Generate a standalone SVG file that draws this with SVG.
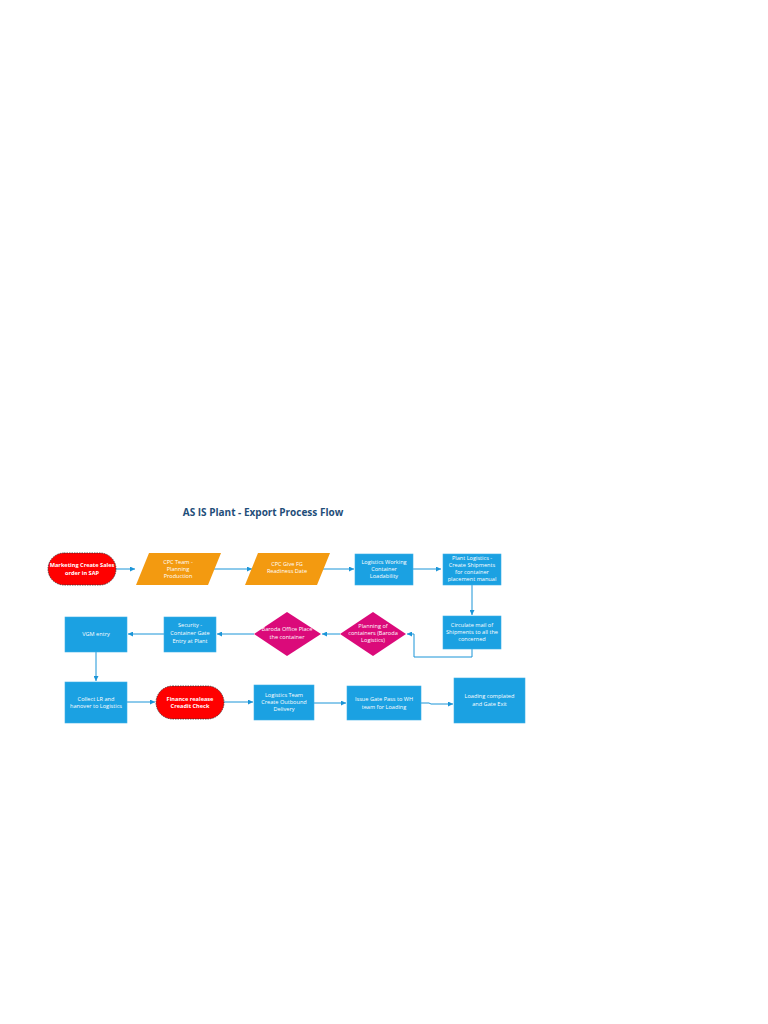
<svg xmlns="http://www.w3.org/2000/svg" width="768" height="1024" viewBox="0 0 768 1024">
<style>
.t{font-family:"Open Sans","Liberation Sans",sans-serif;font-size:5.6px;fill:#fff;text-anchor:middle}
.b{font-weight:bold}
.box{fill:#1ba1e2;stroke:#3fb0e8;stroke-width:0.6}
.par{fill:#f39a10}
.dia{fill:#db0a7a}
.term{fill:#ff0000;stroke:#333;stroke-width:0.8;stroke-dasharray:1.5,1}
.c{fill:none;stroke:#1b95d8;stroke-width:1;marker-end:url(#a)}
</style>
<defs><marker id="a" viewBox="0 0 6 6" refX="6" refY="3" markerWidth="5" markerHeight="5" orient="auto"><path d="M0,0L6,3L0,6z" fill="#1b95d8"/></marker></defs>
<rect width="768" height="1024" fill="#fff"/>
<text x="263" y="516" style="font-family:'Open Sans','Liberation Sans',sans-serif;font-size:10px;font-weight:bold;fill:#1f4e79" text-anchor="middle">AS IS Plant - Export Process Flow</text>
<g id="connectors">
<path class="c" d="M116,569H135"/>
<path class="c" d="M212,569H252"/>
<path class="c" d="M322,569H354"/>
<path class="c" d="M413,569H441"/>
<path class="c" d="M472,585V615"/>
<path class="c" d="M472,649V657H414V634H407"/>
<path class="c" d="M340,634H322"/>
<path class="c" d="M254,634H217"/>
<path class="c" d="M164,634H128"/>
<path class="c" d="M96,652V681"/>
<path class="c" d="M127,702H155"/>
<path class="c" d="M224,702H253"/>
<path class="c" d="M314,703H346"/>
<path class="c" d="M421,703H429L431,704H453"/>
</g>
<g id="n1"><rect class="term" x="48" y="553" width="68" height="32" rx="16"/><text class="t b" x="82" y="567">Marketing Create Sales</text><text class="t b" x="82" y="575">order in SAP</text></g>
<g id="n2"><polygon class="par" points="149,553 221,553 208,585 136,585"/><text class="t" x="178" y="564">CPC Team -</text><text class="t" x="178" y="571">Planning</text><text class="t" x="178" y="578">Production</text></g>
<g id="n3"><polygon class="par" points="258,553 330,553 317,585 245,585"/><text class="t" x="287" y="566">CPC Give FG</text><text class="t" x="287" y="573">Readiness Date</text></g>
<g id="n4"><rect class="box" x="355" y="554" width="58" height="31"/><text class="t" x="384" y="564">Logistics Working</text><text class="t" x="384" y="571">Container</text><text class="t" x="384" y="578">Loadability</text></g>
<g id="n5"><rect class="box" x="443" y="554" width="58" height="31"/><text class="t" x="472" y="560">Plant Logistics -</text><text class="t" x="472" y="567">Create Shipments</text><text class="t" x="472" y="574">for container</text><text class="t" x="472" y="581">placement  manual</text></g>
<g id="n6"><rect class="box" x="443" y="616" width="58" height="33"/><text class="t" x="472" y="627">Circulate mail of</text><text class="t" x="472" y="634">Shipments to all the</text><text class="t" x="472" y="641">concerned</text></g>
<g id="n7"><polygon class="dia" points="373,612 406,634 373,656 340,634"/><text class="t" x="373" y="628">Planning of</text><text class="t" x="373" y="635">containers (Baroda</text><text class="t" x="373" y="642">Logistics)</text></g>
<g id="n8"><polygon class="dia" points="287,612 321,634 287,656 254,634"/><text class="t" x="287" y="631">Baroda Office Place</text><text class="t" x="287" y="639">the container</text></g>
<g id="n9"><rect class="box" x="164" y="617" width="52" height="35"/><text class="t" x="190" y="627">Security -</text><text class="t" x="190" y="635">Container Gate</text><text class="t" x="190" y="643">Entry at Plant</text></g>
<g id="n10"><rect class="box" x="65" y="617" width="62" height="35"/><text class="t" x="96" y="636">VGM entry</text></g>
<g id="n11"><rect class="box" x="65" y="682" width="62" height="41"/><text class="t" x="96" y="701">Collect LR and</text><text class="t" x="96" y="708">hanover to Logistics</text></g>
<g id="n12"><rect class="term" x="156" y="686" width="68" height="33" rx="16.5"/><text class="t b" x="190" y="701">Finance realease</text><text class="t b" x="190" y="708">Creadit Check</text></g>
<g id="n13"><rect class="box" x="254" y="685" width="60" height="35"/><text class="t" x="284" y="697">Logistics Team</text><text class="t" x="284" y="704">Create Outbound</text><text class="t" x="284" y="711">Delivery</text></g>
<g id="n14"><rect class="box" x="347" y="686" width="74" height="34"/><text class="t" x="384" y="701">Issue Gate Pass to WH</text><text class="t" x="384" y="709">team for Loading</text></g>
<g id="n15"><rect class="box" x="454" y="678" width="71" height="45"/><text class="t" x="489.5" y="698">Loading complated</text><text class="t" x="489.5" y="706">and Gate Exit</text></g>
</svg>
